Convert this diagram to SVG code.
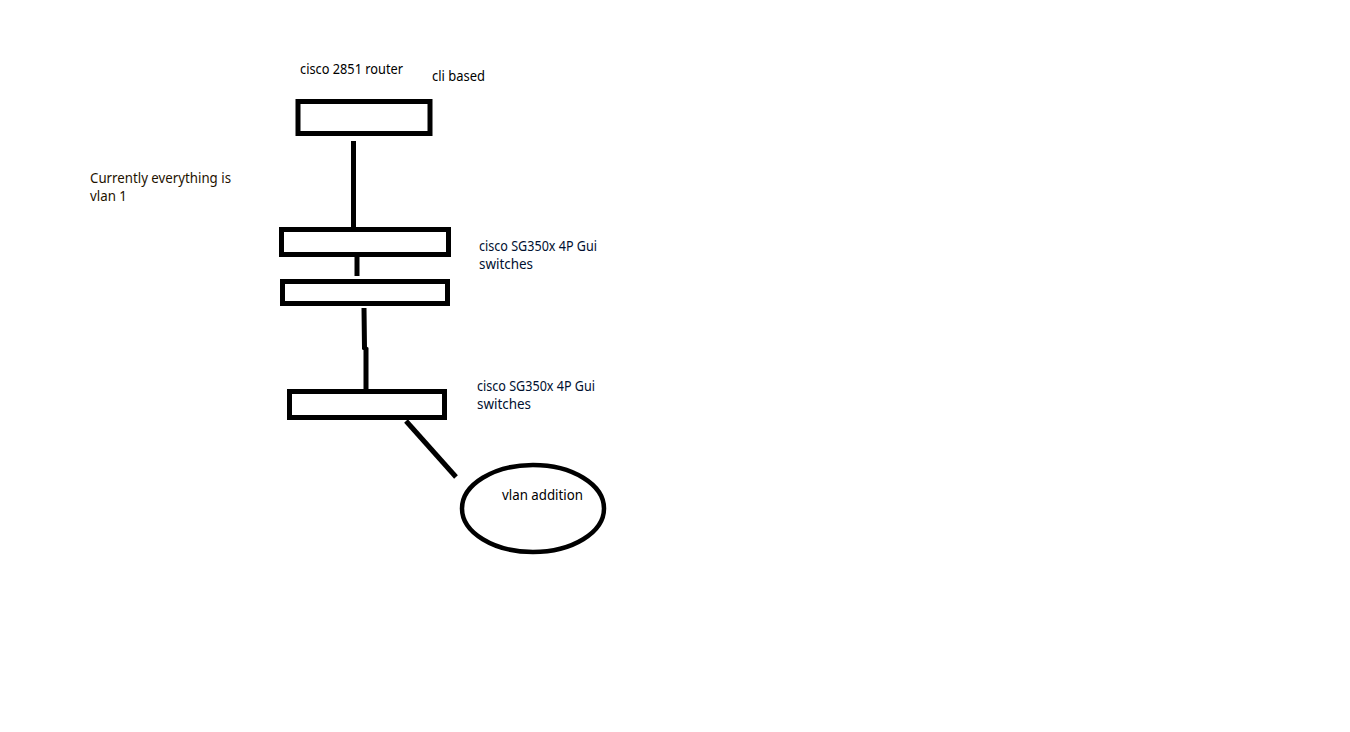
<svg xmlns="http://www.w3.org/2000/svg" width="1350" height="732" viewBox="0 0 1350 732">
<style>
.box{fill:none;stroke:#000;stroke-width:5}
.ln{fill:none;stroke:#000;stroke-width:5;stroke-linecap:butt}
text{font-family:"Noto Sans","Liberation Sans",sans-serif;font-size:13.5px;fill:#000}
.br{fill:#1e1200}
.bl{fill:#001030}
</style>
<rect width="1350" height="732" fill="#fff"/>
<g id="connectors">
<line class="ln" x1="353.5" y1="141" x2="353.5" y2="228"/>
<line class="ln" x1="357" y1="257" x2="357" y2="276"/>
<polyline class="ln" points="364,308 364.5,348 366,349 366,390"/>
<line class="ln" x1="406" y1="421" x2="456" y2="477"/>
</g>
<g id="router">
<rect class="box" x="298" y="101.5" width="132" height="32"/>
<text x="300" y="74" textLength="103" lengthAdjust="spacingAndGlyphs">cisco 2851 router</text>
</g>
<g id="cli-note">
<text x="432" y="81" textLength="53" lengthAdjust="spacingAndGlyphs">cli based</text>
</g>
<g id="vlan-note">
<text class="br" x="90" y="183" textLength="141" lengthAdjust="spacingAndGlyphs">Currently everything is</text>
<text class="br" x="90" y="201" textLength="37" lengthAdjust="spacingAndGlyphs">vlan 1</text>
</g>
<g id="switch1">
<rect class="box" x="281.5" y="229.5" width="167" height="25"/>
</g>
<g id="switch2">
<rect class="box" x="282.5" y="281.5" width="165" height="22"/>
<text class="bl" x="479" y="251" textLength="118" lengthAdjust="spacingAndGlyphs">cisco SG350x 4P Gui</text>
<text class="bl" x="479" y="269" textLength="54" lengthAdjust="spacingAndGlyphs">switches</text>
</g>
<g id="switch3">
<rect class="box" x="289.5" y="391.5" width="155" height="26"/>
<text class="bl" x="477" y="391" textLength="118" lengthAdjust="spacingAndGlyphs">cisco SG350x 4P Gui</text>
<text class="bl" x="477" y="409" textLength="54" lengthAdjust="spacingAndGlyphs">switches</text>
</g>
<g id="vlan-addition">
<ellipse class="box" cx="533" cy="508.5" rx="71" ry="43.5" style="stroke-width:4.5"/>
<text x="502" y="500" textLength="81" lengthAdjust="spacingAndGlyphs">vlan addition</text>
</g>
</svg>
